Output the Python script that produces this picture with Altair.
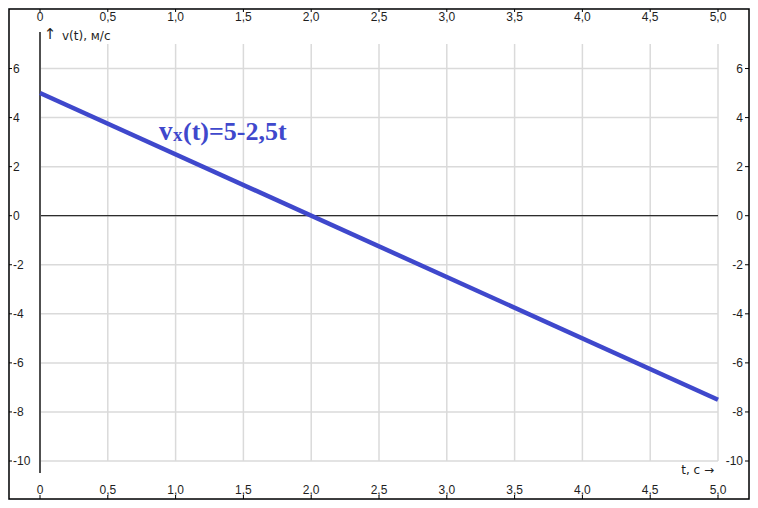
import altair as alt
import pandas as pd

# ---- data ----
t_ticks = [0.0, 0.5, 1.0, 1.5, 2.0, 2.5, 3.0, 3.5, 4.0, 4.5, 5.0]
t_labels = ["0", "0,5", "1,0", "1,5", "2,0", "2,5", "3,0", "3,5", "4,0", "4,5", "5,0"]
v_ticks = [-10, -8, -6, -4, -2, 0, 2, 4, 6]
v_labels = ["-10", "-8", "-6", "-4", "-2", "0", "2", "4", "6"]
line_t = [0.0, 5.0]
line_v = [5.0, -7.5]

W, H = 678, 417
xs = alt.Scale(domain=[0, 5], nice=False, zero=False)
ys = alt.Scale(domain=[-10, 7], nice=False, zero=False)

tdf = pd.DataFrame({"t": t_ticks, "lab": t_labels})
vdf = pd.DataFrame({"v": v_ticks, "lab": v_labels})
ldf = pd.DataFrame({"t": line_t, "v": line_v})
one = pd.DataFrame({"a": [0]})

FONT = "Liberation Sans"
TFONT = "DejaVu Sans"
TXT = "#1e1e1e"

panel = alt.Chart(one).mark_rect(fill="white", stroke="black", strokeWidth=1.5).encode(
    x=alt.value(-31), x2=alt.value(709), y=alt.value(-35), y2=alt.value(455)
)

vgrid = alt.Chart(tdf[tdf.t > 0]).mark_rule(color="#dadada", strokeWidth=1.5).encode(
    x=alt.X("t:Q", scale=xs, axis=None), y=alt.value(0), y2=alt.value(H)
)
hgrid = alt.Chart(vdf).mark_rule(color="#dadada", strokeWidth=1.5).encode(
    y=alt.Y("v:Q", scale=ys, axis=None), x=alt.value(0), x2=alt.value(W)
)
zero = alt.Chart(one).mark_rule(color="black", strokeWidth=1).encode(
    y=alt.datum(0, scale=ys, axis=None), x=alt.value(0), x2=alt.value(W)
)
yaxis = alt.Chart(one).mark_rule(color="#505050", strokeWidth=2).encode(
    x=alt.datum(0, scale=xs, axis=None), y=alt.value(-12), y2=alt.value(429)
)

line = alt.Chart(ldf).mark_line(color="#3f48cc", strokeWidth=4.5).encode(
    x=alt.X("t:Q", scale=xs, axis=None), y=alt.Y("v:Q", scale=ys, axis=None)
)

def tlabels(ypix):
    return alt.Chart(tdf).mark_text(font=FONT, fontSize=12, color=TXT, baseline="middle", align="center").encode(
        x=alt.X("t:Q", scale=xs, axis=None), y=alt.value(ypix), text="lab:N"
    )

def tticks(y1, y2):
    return alt.Chart(tdf).mark_rule(color="black", strokeWidth=1).encode(
        x=alt.X("t:Q", scale=xs, axis=None), y=alt.value(y1), y2=alt.value(y2)
    )

def vlabels(xpix, align):
    return alt.Chart(vdf).mark_text(font=FONT, fontSize=12, color=TXT, baseline="middle", align=align).encode(
        y=alt.Y("v:Q", scale=ys, axis=None), x=alt.value(xpix), text="lab:N"
    )

def vticks(x1, x2):
    return alt.Chart(vdf).mark_rule(color="black", strokeWidth=1).encode(
        y=alt.Y("v:Q", scale=ys, axis=None), x=alt.value(x1), x2=alt.value(x2)
    )

yarrow = alt.Chart(one).mark_text(font=TFONT, fontSize=15, color=TXT, align="center", baseline="middle").encode(
    x=alt.value(10), y=alt.value(-10), text=alt.value("↑")
)
ytitle = alt.Chart(one).mark_text(font=TFONT, fontSize=12, color=TXT, align="left", baseline="middle").encode(
    x=alt.value(22), y=alt.value(-8), text=alt.value("v(t), м/с")
)
xtitle = alt.Chart(one).mark_text(font=TFONT, fontSize=12, color=TXT, align="right", baseline="middle").encode(
    x=alt.value(674), y=alt.value(426), text=alt.value("t, c →")
)

SERIF = "Liberation Serif"
BLUE = "#3f48cc"
ann_v = alt.Chart(one).mark_text(font=SERIF, fontSize=27, fontWeight="bold", color=BLUE, align="left", baseline="alphabetic").encode(
    x=alt.value(119), y=alt.value(96), text=alt.value("v")
)
ann_x = alt.Chart(one).mark_text(font=SERIF, fontSize=19, fontWeight="bold", color=BLUE, align="left", baseline="alphabetic").encode(
    x=alt.value(133), y=alt.value(97), text=alt.value("x")
)
ann_rest = alt.Chart(one).mark_text(font=SERIF, fontSize=26, fontWeight="bold", color=BLUE, align="left", baseline="alphabetic").encode(
    x=alt.value(143), y=alt.value(96), text=alt.value("(t)=5-2,5t")
)

chart = alt.layer(
    panel, vgrid, hgrid, zero, yaxis, line,
    tlabels(-27), tlabels(446), tticks(-35, -32), tticks(451, 455),
    vlabels(-27, "left"), vlabels(703, "right"), vticks(-31, -28), vticks(705, 709),
    yarrow, ytitle, xtitle, ann_v, ann_x, ann_rest,
).properties(
    width=W, height=H,
    autosize=alt.AutoSizeParams(type="none"),
    padding={"left": 32, "top": 36, "right": 32, "bottom": 39},
).configure(
    background="#e9f1fb"
).configure_view(strokeWidth=0)

chart.save("out.html", embed_options={"renderer": "svg", "actions": False})
